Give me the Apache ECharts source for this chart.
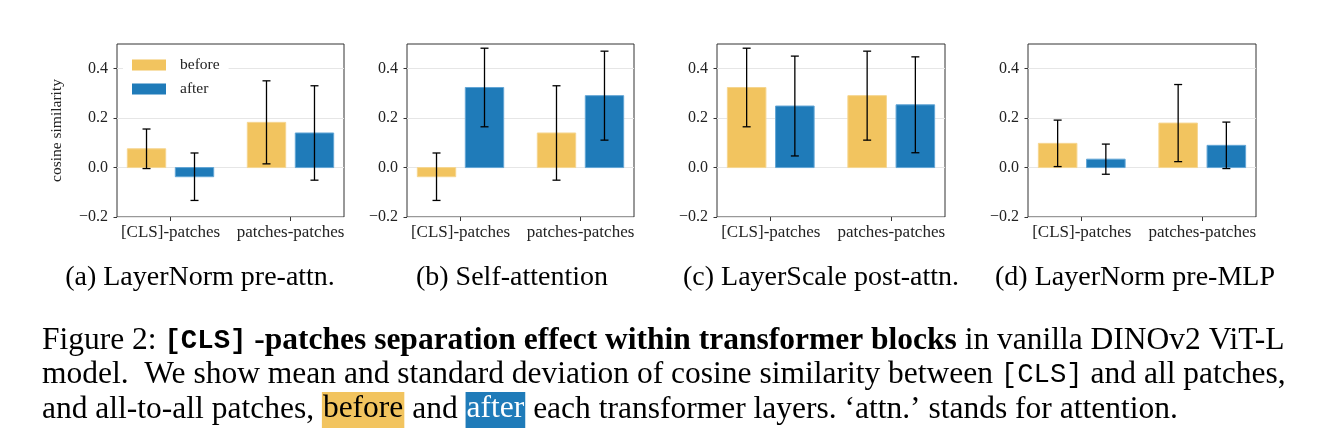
<!DOCTYPE html>
<html>
<head>
<meta charset="utf-8">
<script src="https://cdn.jsdelivr.net/npm/echarts@6/dist/echarts.min.js"></script>
<style>
  html, body { margin: 0; padding: 0; background: #fff; }
  #main { width: 1332px; height: 444px; }
</style>
</head>
<body>
<div id="main"></div>
<script>
// categories and panel titles
var cats = ['[CLS]-patches', 'patches-patches'];
var panelTitles = ['(a) LayerNorm pre-attn.', '(b) Self-attention', '(c) LayerScale post-attn.', '(d) LayerNorm pre-MLP'];

// mean / std of cosine similarity, one row per panel, [cls, patches]
var beforeMean = [[0.076, 0.183], [-0.037, 0.140], [0.324, 0.291], [0.098, 0.180]];
var beforeStd  = [[0.080, 0.168], [0.096, 0.191], [0.159, 0.180], [0.094, 0.156]];
var afterMean  = [[-0.037, 0.140], [0.324, 0.291], [0.249, 0.254], [0.034, 0.090]];
var afterStd   = [[0.096, 0.191], [0.159, 0.180], [0.202, 0.194], [0.061, 0.094]];

var yTicks = [-0.2, 0.0, 0.2, 0.4];

var YELLOW = '#f2c45f', BLUE = '#1f7bb9';
var SERIF = "'Liberation Serif', 'Times New Roman', serif";
var MONO = "'Liberation Mono', 'Courier New', monospace";
var HALF_W = 0.16, OFFSET = 0.2;

// grid boxes (px)
var grids = [
	{ left: 117, top: 44, width: 227, height: 173 },
	{ left: 407, top: 44, width: 227, height: 173 },
	{ left: 717, top: 44, width: 228, height: 173 },
	{ left: 1028, top: 44, width: 228, height: 173 }
];
var titleX = [200, 512, 821, 1135];

function barRenderer(edge) {
	return function(params, api) {
		var x = api.value(0), m = api.value(1), s = api.value(2);
		var p0 = api.coord([x - HALF_W, m]);
		var p1 = api.coord([x + HALF_W, 0]);
		var top = api.coord([x, m + s]);
		var bot = api.coord([x, m - s]);
		var cap = 4;
		return {
			type: 'group',
			children: [
				{ type: 'rect', shape: { x: p0[0], y: Math.min(p0[1], p1[1]), width: p1[0] - p0[0], height: Math.abs(p1[1] - p0[1]) },
				  style: { fill: api.visual('color'), stroke: edge, lineWidth: 1 } },
				{ type: 'line', shape: { x1: top[0], y1: top[1], x2: bot[0], y2: bot[1] }, style: { stroke: '#000', lineWidth: 1.3 }, z2: 10 },
				{ type: 'line', shape: { x1: top[0] - cap, y1: top[1], x2: top[0] + cap, y2: top[1] }, style: { stroke: '#000', lineWidth: 1.3 }, z2: 10 },
				{ type: 'line', shape: { x1: bot[0] - cap, y1: bot[1], x2: bot[0] + cap, y2: bot[1] }, style: { stroke: '#000', lineWidth: 1.3 }, z2: 10 }
			]
		};
	};
}

var option = {
	animation: false,
	grid: [],
	xAxis: [],
	yAxis: [],
	series: [],
	legend: {
		orient: 'vertical',
		left: 123, top: 52,
		padding: [5, 9, 5, 9],
		itemWidth: 34, itemHeight: 11, itemGap: 8,
		icon: 'rect',
		backgroundColor: '#fff',
		textStyle: { fontFamily: SERIF, fontSize: 15.5, color: '#222', lineHeight: 15, padding: [0, 0, 0, 9] },
		data: [{ name: 'before', itemStyle: { color: YELLOW } }, { name: 'after', itemStyle: { color: BLUE } }]
	},
	graphic: []
};

grids.forEach(function(g, i) {
	option.grid.push({ left: g.left, top: g.top, width: g.width, height: g.height, show: true, borderColor: '#333', borderWidth: 1, backgroundColor: 'transparent' });
	option.xAxis.push({
		type: 'value', gridIndex: i, min: -0.446, max: 1.446,
		axisLine: { show: false, onZero: false },
		splitLine: { show: false },
		axisTick: { show: true, customValues: [0, 1], length: 4, lineStyle: { color: '#333' } },
		axisLabel: { customValues: [0, 1], margin: 7, fontFamily: SERIF, fontSize: 17, color: '#222',
			formatter: function(v) { return cats[Math.round(v)]; } }
	});
	option.yAxis.push({
		type: 'value', gridIndex: i, min: -0.2, max: 0.5, interval: 0.2,
		name: i === 0 ? 'cosine similarity' : '',
		nameLocation: 'middle', nameGap: 52,
		nameTextStyle: { fontFamily: SERIF, fontSize: 15.5, color: '#222' },
		axisLine: { show: false, onZero: false },
		axisTick: { show: true, customValues: yTicks, length: 3.5, lineStyle: { color: '#333' } },
		axisLabel: { customValues: yTicks, margin: 9, fontFamily: SERIF, fontSize: 16, color: '#222',
			formatter: function(v) { return (v < -1e-9 ? '\u2212' : '') + Math.abs(v).toFixed(1); } },
		splitLine: { show: true, lineStyle: { color: '#e6e6e6', width: 1 } }
	});
	var bData = [], aData = [];
	for (var c = 0; c < cats.length; c++) {
		bData.push([c - OFFSET, beforeMean[i][c], beforeStd[i][c]]);
		aData.push([c + OFFSET, afterMean[i][c], afterStd[i][c]]);
	}
	option.series.push({ name: 'before', type: 'custom', xAxisIndex: i, yAxisIndex: i, itemStyle: { color: YELLOW },
		renderItem: barRenderer('#f6d690'), data: bData, encode: { x: 0, y: 1 } });
	option.series.push({ name: 'after', type: 'custom', xAxisIndex: i, yAxisIndex: i, itemStyle: { color: BLUE },
		renderItem: barRenderer('#63a6d6'), data: aData, encode: { x: 0, y: 1 } });

	option.graphic.push({ type: 'text', x: titleX[i], y: 278,
		style: { text: panelTitles[i], font: '28px ' + SERIF, fill: '#000', align: 'center', verticalAlign: 'middle' } });
});

// figure caption (graphic text -> zrender rich styles use fill)
var capRich = {
	n: { fontFamily: SERIF, fontSize: 31.5, fill: '#000' },
	b: { fontFamily: SERIF, fontSize: 31.5, fontWeight: 'bold', fill: '#000' },
	mb: { fontFamily: MONO, fontSize: 27.3, fontWeight: 'bold', fill: '#000' },
	m: { fontFamily: MONO, fontSize: 27.3, fill: '#000' },
	hy: { fontFamily: SERIF, fontSize: 31.5, fill: '#000', backgroundColor: YELLOW, padding: [1, 1, 3, 1] },
	hb: { fontFamily: SERIF, fontSize: 31.5, fill: '#fff', backgroundColor: BLUE, padding: [1, 1, 3, 1] }
};
var capLines = [
	'{n|Figure 2: }{mb|[CLS]}{b| -patches separation effect within transformer blocks}{n| in vanilla DINOv2 ViT-L}',
	'{n|model.  We show mean and standard deviation of cosine similarity between }{m|[CLS]}{n| and all patches,}',
	'{n|and all-to-all patches, }{hy|before}{n| and }{hb|after}{n| each transformer layers. \u2018attn.\u2019 stands for attention.}'
];
var capY = [341, 375, 410];
capLines.forEach(function(t, k) {
	option.graphic.push({ type: 'text', x: 42, y: capY[k],
		style: { text: t, rich: capRich, align: 'left', verticalAlign: 'middle' } });
});

var chart = echarts.init(document.getElementById('main'));
chart.setOption(option);
</script>
</body>
</html>
